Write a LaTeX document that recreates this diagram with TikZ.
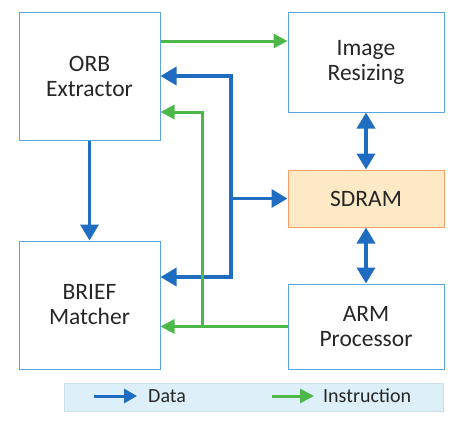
\documentclass[tikz,border=0pt]{standalone}
\usepackage{fontspec}
\setmainfont{Carlito}
\usepackage{xcolor}
\usetikzlibrary{arrows.meta, positioning, calc}
\definecolor{datablue}{HTML}{1F6DC0}
\definecolor{instrgreen}{HTML}{4DB848}
\definecolor{edgeblue}{HTML}{5AA5DC}
\definecolor{memfill}{HTML}{FEE9C6}
\definecolor{memedge}{HTML}{F5A06A}
\definecolor{keyfill}{HTML}{DDEFF8}
\definecolor{keyedge}{HTML}{CADFEA}
\definecolor{txt}{HTML}{262626}
\tikzset{blk/.style={draw=edgeblue, fill=white, line width=1pt, align=center, text=txt, font=\fontsize{23.5}{25}\selectfont}}
\tikzset{data/.style={draw=datablue, line width=3.5pt, -{Triangle[length=16pt,width=18pt]}}}
\tikzset{instr/.style={draw=instrgreen, line width=3pt, -{Triangle[length=14pt,width=14pt]}}}

\begin{document}
\begin{tikzpicture}[x=1pt, y=-1pt]
                        \useasboundingbox (0,0) rectangle (450,426);

                        \node[blk, minimum width=141pt, minimum height=128pt] (orb) at (89.5, 76) {ORB\\Extractor};
                        \node[blk, minimum width=156pt, minimum height=100pt] (resize) at (366, 62) {Image\\Resizing};
                        \node[blk, draw=memedge, fill=memfill, minimum width=156pt, minimum height=57pt] (sdram) at (366, 198.5) {SDRAM};
                        \node[blk, minimum width=141pt, minimum height=128pt] (brief) at (89.5, 305) {BRIEF\\Matcher};
                        \node[blk, minimum width=156pt, minimum height=85pt] (arm) at (366, 326.5) {ARM\\Processor};

                        \node[draw=keyedge, fill=keyfill, line width=0.6pt, minimum width=379pt, minimum height=28pt] (key) at (253.5, 397) {};

                        \coordinate (bt) at (231, 76);
                        \coordinate (bb) at (231, 277);
                        \coordinate (gt) at (202, 112);

                        \draw[instr] (orb.east |- 0, 41) -- (resize.west |- 0, 41);
                        \draw[data, {Triangle[length=16pt,width=18pt]}-{Triangle[length=16pt,width=18pt]}]
                        (bt -| orb.east) -- (bt) -- (bb) -- (bb -| brief.east);
                        \draw[data] (sdram.west -| bt) -- (sdram.west);
                        \draw[instr] (arm.west) -- (arm.west -| brief.east);
                        \draw[instr] (gt |- arm.west) -- (gt) -- (gt -| orb.east);
                        \draw[data] (orb.south) -- (brief.north);
                        \draw[data, {Triangle[length=16pt,width=18pt]}-{Triangle[length=16pt,width=18pt]}]
                        (resize.south) -- (sdram.north);
                        \draw[data, {Triangle[length=16pt,width=18pt]}-{Triangle[length=16pt,width=18pt]}]
                        (sdram.south) -- (arm.north);

                        \coordinate (d1) at (94, 396);
                        \coordinate (d2) at (137, 396);
                        \coordinate (i1) at (272, 396);
                        \coordinate (i2) at (314, 396);
                        \node[anchor=west, text=txt, font=\fontsize{20}{22}\selectfont, inner sep=0pt] (dlab) at (148, 396) {Data};
                        \node[anchor=west, text=txt, font=\fontsize{20}{22}\selectfont, inner sep=0pt] (ilab) at (323, 396) {Instruction};
                        \draw[data, line width=3pt, -{Triangle[length=13pt,width=14pt]}] (d1) -- (d2);
                        \draw[instr] (i1) -- (i2);
                    \end{tikzpicture}
\end{document}
